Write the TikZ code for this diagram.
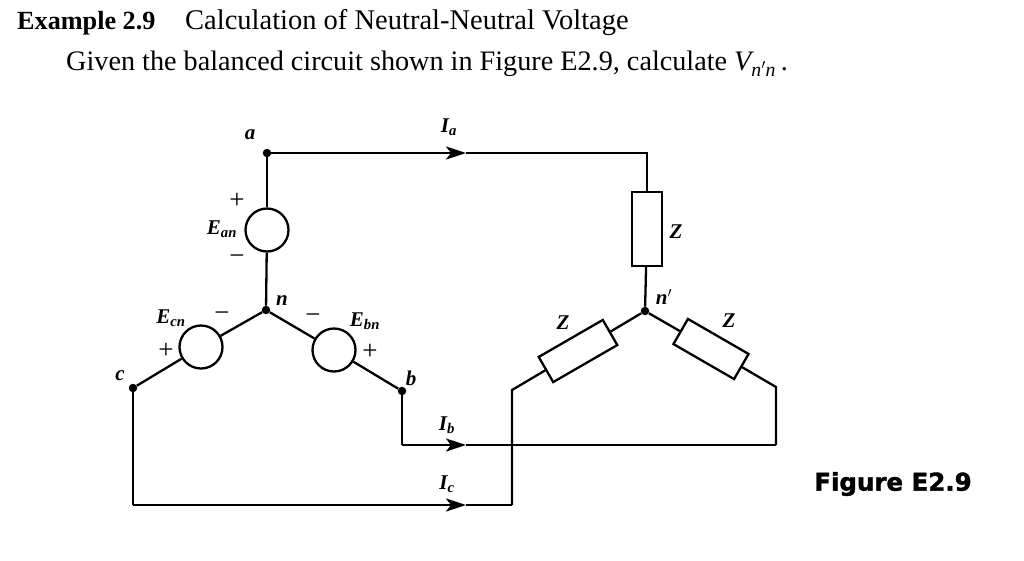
\documentclass[tikz,border=0pt]{standalone}
\usepackage{fontspec}
\setmainfont{Liberation Serif}
\newfontfamily\figfont[BoldFeatures={FakeBold=1.5}]{DejaVu Sans}
\usetikzlibrary{arrows.meta}
\tikzset{
  x=1pt,y=-1pt,
  wire/.style={line width=2.3pt,line join=miter,black},
  dotnode/.style={circle,fill=black,inner sep=0pt,minimum size=8.5pt},
  source/.style={circle,draw,line width=2.3pt,inner sep=0pt,minimum size=43pt},
  imped/.style={rectangle,draw,line width=2.3pt,inner sep=0pt,minimum width=74pt,minimum height=29pt},
  lab/.style={font=\fontsize{21}{21}\selectfont\itshape\bfseries,inner sep=0pt},
  sgn/.style={font=\fontsize{27}{27}\selectfont,inner sep=0pt},
  arrowed/.style={wire,-{Stealth[length=20pt,width=13pt,inset=5pt]}},
  para/.style={font=\fontsize{28.5}{28.5}\selectfont,anchor=base west,inner sep=0pt}
}
\begin{document}
\begin{tikzpicture}
\useasboundingbox (0,0) rectangle (1024,560);
\node[para,font=\fontsize{26.2}{26.2}\selectfont\bfseries] (t1) at (17,29) {Example 2.9};
\node[para] (t2) at (185,29) {Calculation of Neutral-Neutral Voltage};
\node[para,font=\fontsize{28.2}{28.2}\selectfont] (t3) at (66,70) {Given the balanced circuit shown in Figure E2.9, calculate \textit{V\textsubscript{n$'$n}}\,.};
% nodes
\node[dotnode] (a) at (267,153) {};
\node[dotnode] (n) at (266,310) {};
\node[dotnode] (c) at (133,388) {};
\node[dotnode] (b) at (402,391) {};
\node[dotnode] (np) at (645,311) {};
\node[source] (ean) at (267,230) {};
\node[source] (ecn) at (201,347) {};
\node[source] (ebn) at (334,350) {};
\node[imped,minimum width=74pt,minimum height=30pt,rotate=90] (za) at (647,229) {};
\node[imped,rotate=30] (zl) at (578,351) {};
\node[imped,rotate=-30,minimum width=70pt] (zr) at (711,349) {};
\coordinate (tipa) at (466,153);
\coordinate (ca) at (647,153);
\coordinate (bl) at (512,390);
\coordinate (br) at (776,387);
\coordinate (bb) at (402,445);
\coordinate (tipb) at (466,445);
\coordinate (brb) at (776,445);
\coordinate (cb) at (133,505);
\coordinate (tipc) at (466,505);
\coordinate (blb) at (512,505);
% wires
\draw[wire] (a) -- (ean);
\draw[wire] (ean) -- (n);
\draw[wire] (n) -- (ecn);
\draw[wire] (ecn) -- (c);
\draw[wire] (n) -- (ebn);
\draw[wire] (ebn) -- (b);
\draw[arrowed] (a) -- (tipa);
\draw[wire] (tipa) -- (ca) -- (za);
\draw[wire] (za) -- (np);
\draw[wire] (np) -- (zl);
\draw[wire] (np) -- (zr);
\draw[wire] (zl) -- (bl) -- (blb);
\draw[wire] (zr) -- (br) -- (brb);
\draw[wire] (b) -- (bb);
\draw[arrowed] (bb) -- (tipb);
\draw[wire] (tipb) -- (brb);
\draw[wire] (c) -- (cb);
\draw[arrowed] (cb) -- (tipc);
\draw[wire] (tipc) -- (blb);
% labels
\node[lab] (la) at (250,135) {a};
\node[lab] (ln) at (282,301) {n};
\node[lab] (lc) at (120,376) {c};
\node[lab] (lb) at (411,378) {b};
\node[lab] (lnp) at (664,297) {n$'$};
\node[lab] (lean) at (222,229) {E\textsubscript{an}};
\node[lab] (lecn) at (171,318) {E\textsubscript{cn}};
\node[lab] (lebn) at (365,321) {E\textsubscript{bn}};
\node[lab] (lz1) at (676,232) {Z};
\node[lab] (lz2) at (563,323) {Z};
\node[lab] (lz3) at (729,321) {Z};
\node[lab] (lia) at (449,127) {I\textsubscript{a}};
\node[lab] (lib) at (447,425) {I\textsubscript{b}};
\node[lab] (lic) at (447,484) {I\textsubscript{c}};
\node[sgn] (s1) at (237,201) {+};
\node[sgn] (s2) at (237,260) {\textminus};
\node[sgn] (s3) at (222,317) {\textminus};
\node[sgn] (s4) at (166,351) {+};
\node[sgn] (s5) at (313,319) {\textminus};
\node[sgn] (s6) at (370,352) {+};
\node[font=\figfont\fontsize{24.5}{24.5}\selectfont\bfseries,inner sep=0pt] (fig) at (893,484) {Figure E2.9};
\end{tikzpicture}
\end{document}
